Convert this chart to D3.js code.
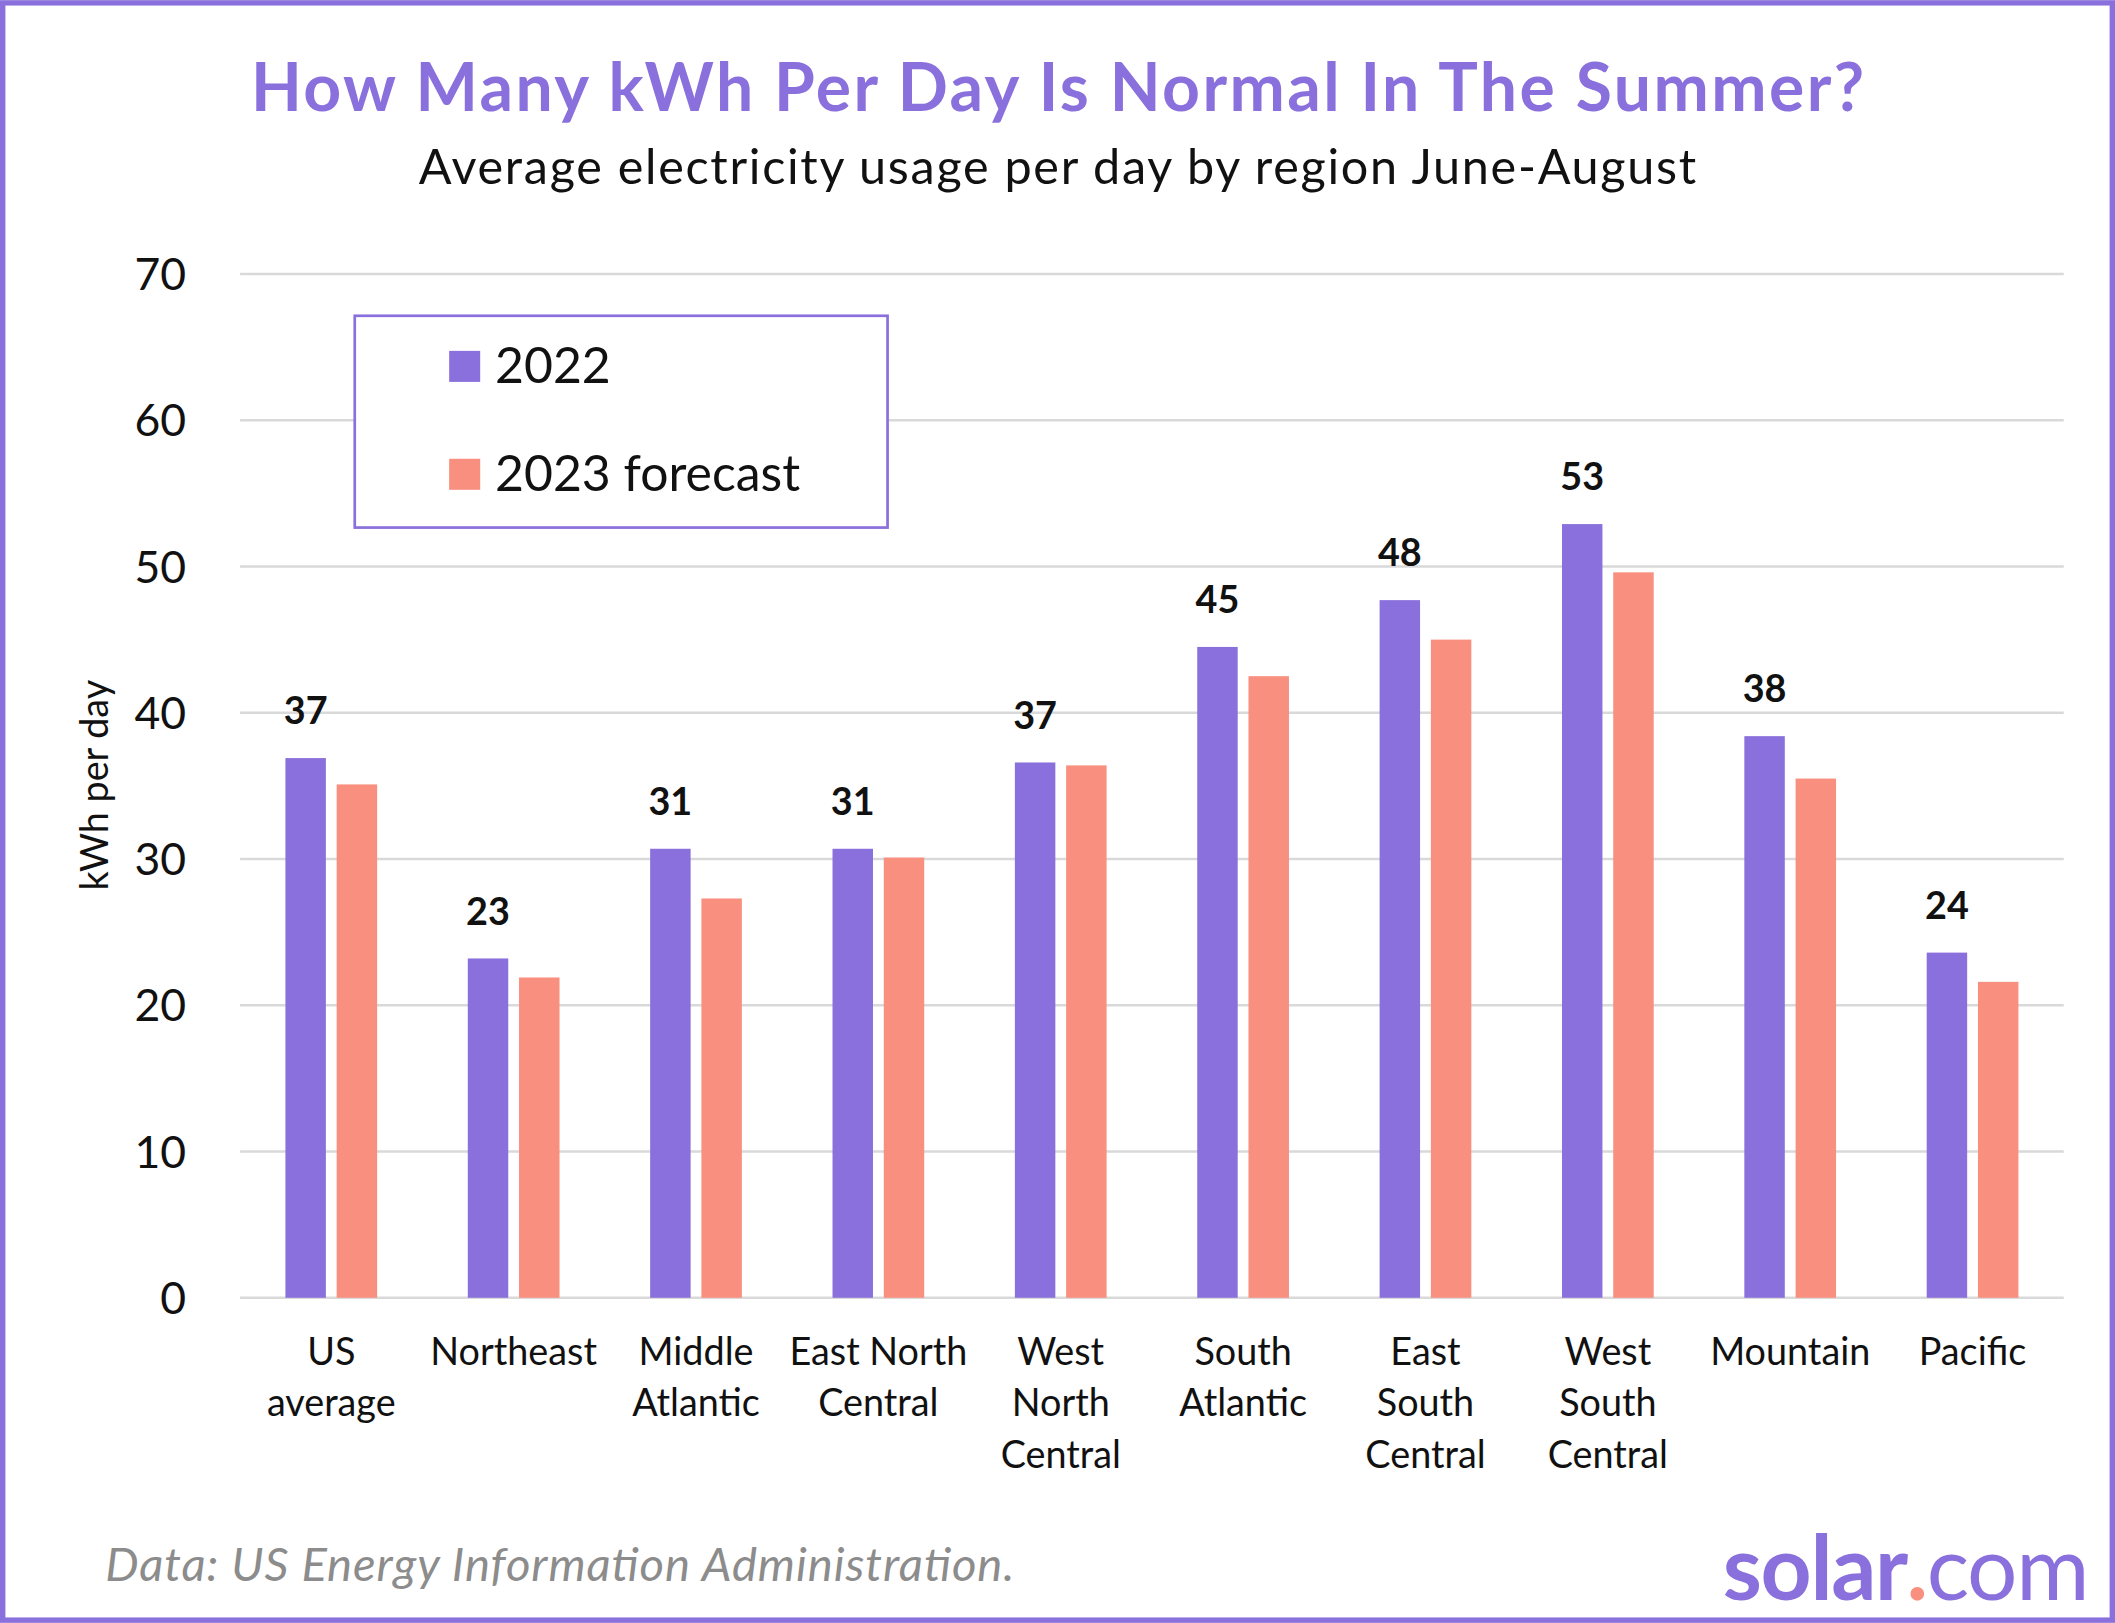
<!DOCTYPE html>
<html><head><meta charset="utf-8">
<script src="https://cdn.jsdelivr.net/npm/d3@7"></script>
<style>body{margin:0;background:#fff}svg{display:block}</style>
</head><body>
<svg id="chart" width="2115" height="1623" viewBox="0 0 1568 1203"></svg>
<script>
const regions = [['US', 'average'], ['Northeast'], ['Middle', 'Atlantic'], ['East North', 'Central'], ['West', 'North', 'Central'], ['South', 'Atlantic'], ['East', 'South', 'Central'], ['West', 'South', 'Central'], ['Mountain'], ['Pacific']]
const usage2022 = [36.9, 23.2, 30.7, 30.7, 36.6, 44.5, 47.7, 52.9, 38.4, 23.6]
const usage2023 = [35.1, 21.9, 27.3, 30.1, 36.4, 42.5, 45.0, 49.6, 35.5, 21.6]
const yTicks = [0, 10, 20, 30, 40, 50, 60, 70]

const purple = '#8a70dc'
const salmon = '#f98f7e'
const font = 'Lato, sans-serif'

const svg = d3.select('#chart')
svg.append('rect').attr('x', 2).attr('y', 2).attr('width', 1564).attr('height', 1199)
  .attr('fill', '#fff').attr('stroke', purple).attr('stroke-width', 4)

svg.append('text').attr('x', 784).attr('y', 82).attr('text-anchor', 'middle')
  .attr('font-family', font).attr('font-weight', 'bold').attr('font-size', 49).attr('fill', purple)
  .attr('textLength', 1196).attr('lengthAdjust', 'spacing')
  .text('How Many kWh Per Day Is Normal In The Summer?')
svg.append('text').attr('x', 784).attr('y', 136).attr('text-anchor', 'middle')
  .attr('font-family', font).attr('font-size', 36).attr('fill', '#111')
  .attr('textLength', 947).attr('lengthAdjust', 'spacing')
  .text('Average electricity usage per day by region June-August')

const x = d3.scaleBand().domain(d3.range(regions.length)).range([178, 1530])
const y = d3.scaleLinear().domain([0, 70]).range([962, 203])

const grid = svg.append('g')
grid.selectAll('line').data(yTicks).enter().append('line')
  .attr('x1', 178).attr('x2', 1530).attr('y1', d => y(d)).attr('y2', d => y(d))
  .attr('stroke', '#d9d9d9').attr('stroke-width', 2)
grid.selectAll('text').data(yTicks).enter().append('text')
  .attr('x', 138).attr('y', d => y(d) + 12).attr('text-anchor', 'end')
  .attr('font-family', font).attr('font-size', 33).attr('fill', '#111').text(d => d)

svg.append('text').attr('transform', 'translate(80,582) rotate(-90)').attr('text-anchor', 'middle')
  .attr('font-family', font).attr('font-size', 28).attr('fill', '#111').text('kWh per day')

const bw = 30
const g = svg.append('g')
g.selectAll('.b22').data(usage2022).enter().append('rect')
  .attr('x', (d, i) => x(i) + x.bandwidth() / 2 - bw - 4).attr('width', bw)
  .attr('y', d => y(d)).attr('height', d => y(0) - y(d)).attr('fill', purple)
g.selectAll('.b23').data(usage2023).enter().append('rect')
  .attr('x', (d, i) => x(i) + x.bandwidth() / 2 + 4).attr('width', bw)
  .attr('y', d => y(d)).attr('height', d => y(0) - y(d)).attr('fill', salmon)
g.selectAll('.lbl').data(usage2022).enter().append('text')
  .attr('x', (d, i) => x(i) + x.bandwidth() / 2 - bw / 2 - 4).attr('y', d => y(d) - 25)
  .attr('text-anchor', 'middle').attr('font-family', font).attr('font-weight', 'bold')
  .attr('font-size', 28).attr('fill', '#111').text(d => Math.round(d))

const cats = svg.append('g').selectAll('text').data(regions).enter().append('text')
  .attr('text-anchor', 'middle').attr('font-family', font).attr('font-size', 28).attr('fill', '#111')
  .attr('transform', (d, i) => `translate(${x(i) + x.bandwidth() / 2},1012)`)
cats.selectAll('tspan').data(d => d).enter().append('tspan')
  .attr('x', 0).attr('y', (d, j) => j * 38).text(d => d)

const lg = svg.append('g')
lg.append('rect').attr('x', 263).attr('y', 234).attr('width', 395).attr('height', 157)
  .attr('fill', '#fff').attr('stroke', purple).attr('stroke-width', 2)
;[['2022', purple], ['2023 forecast', salmon]].forEach(([t, c], i) => {
  lg.append('rect').attr('x', 333).attr('y', 260 + i * 80).attr('width', 23).attr('height', 23).attr('fill', c)
  lg.append('text').attr('x', 367).attr('y', 284 + i * 80).attr('font-family', font)
    .attr('font-size', 37).attr('fill', '#111').text(t)
})

svg.append('text').attr('x', 78).attr('y', 1172).attr('font-family', font).attr('font-style', 'italic')
  .attr('font-size', 35).attr('fill', '#8c8c8c')
  .attr('textLength', 674).attr('lengthAdjust', 'spacing')
  .text('Data: US Energy Information Administration.')

const logo = svg.append('text').attr('x', 1548).attr('y', 1186).attr('text-anchor', 'end')
  .attr('font-family', font).attr('font-size', 66).attr('fill', purple).attr('letter-spacing', -1)
logo.append('tspan').attr('font-weight', 'bold').text('solar')
logo.append('tspan').attr('fill', salmon).attr('font-weight', 'bold').text('.')
logo.append('tspan').text('com')
</script>
</body></html>
